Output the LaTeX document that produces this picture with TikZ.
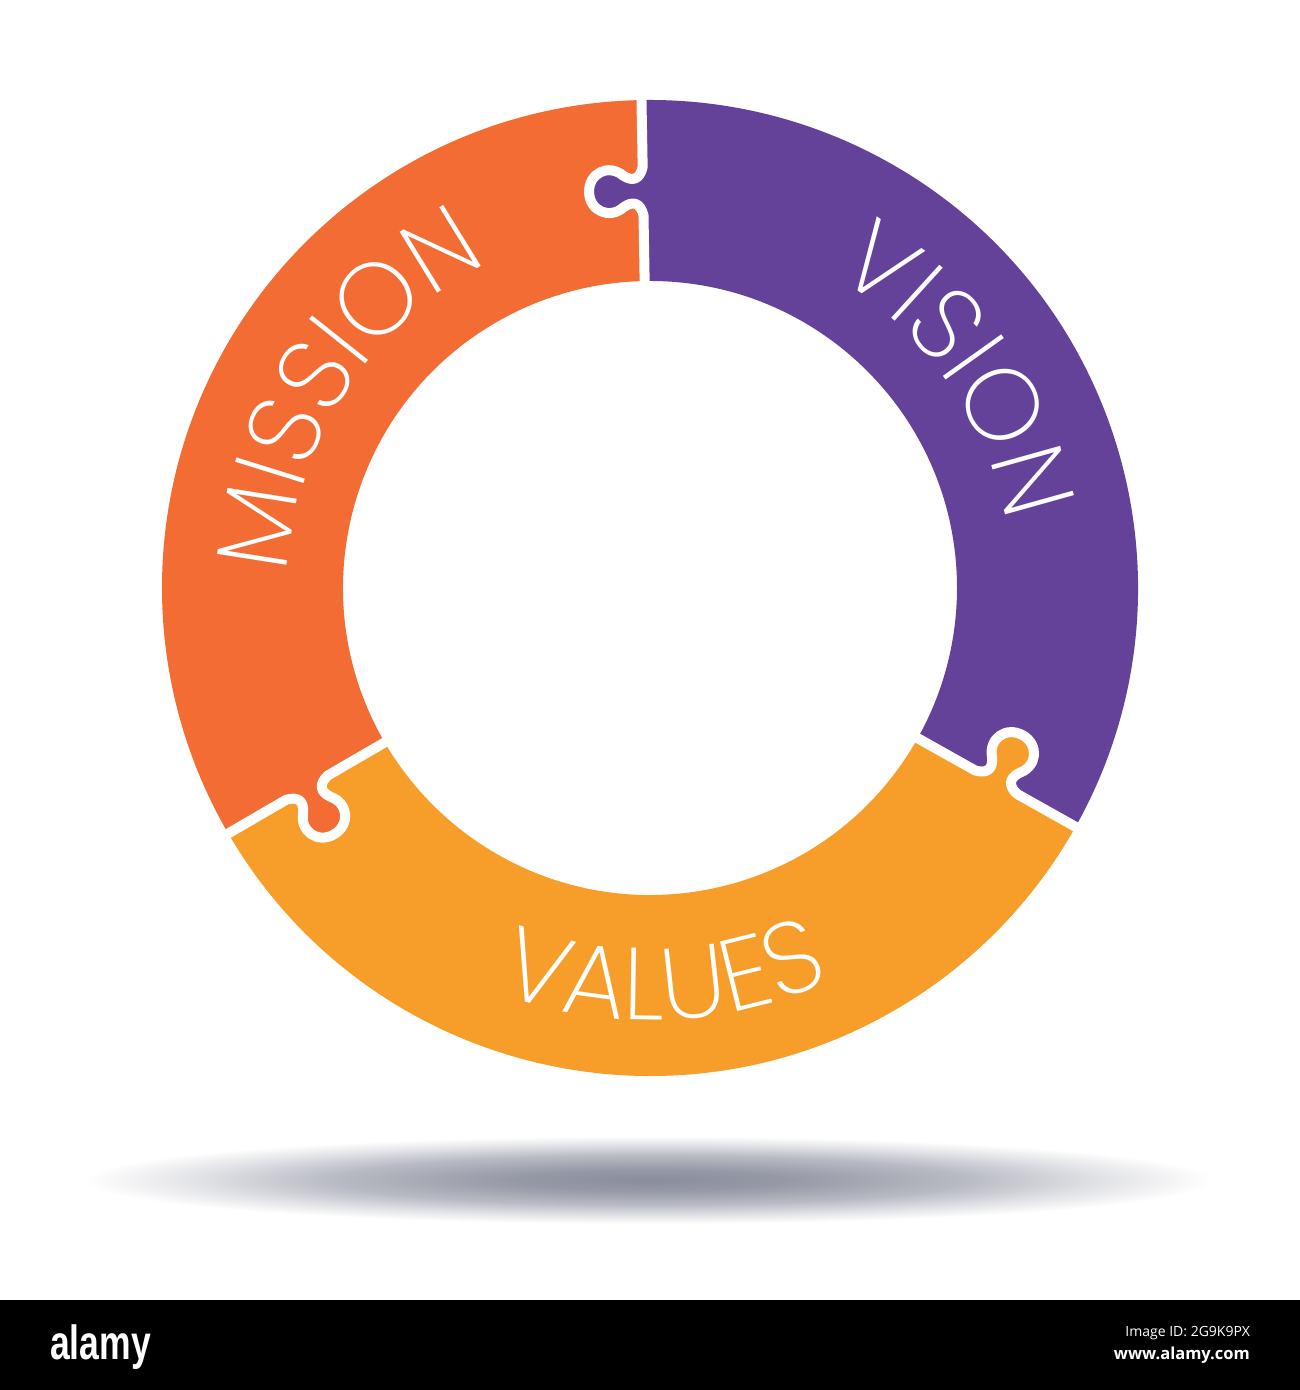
\documentclass[tikz,border=0pt]{standalone}
\usepackage{fontspec}
\usetikzlibrary{calc,decorations.text}
\newfontfamily\lblfont{Poppins ExtraLight}[LetterSpace=3]
\newfontfamily\barfont{Open Sans}
\newfontfamily\logofont{Liberation Sans}
\definecolor{mis}{RGB}{242,108,52}
\definecolor{vis}{RGB}{101,66,153}
\definecolor{val}{RGB}{247,157,41}
\definecolor{shd}{RGB}{138,141,156}
\pgfdeclareradialshading{shadowsh}{\pgfpoint{0bp}{0bp}}{color(0bp)=(shd); color(6bp)=(shd!90!white); color(14bp)=(shd!60!white); color(20bp)=(shd!25!white); color(25bp)=(white); color(50bp)=(white)}
\tikzset{
  gapline/.style={white,line width=10pt,line join=round},
  pics/knob/.style={code={
    \fill[#1] (-24,-4) -- (-24,0) .. controls (-12,3) and (-9,10) .. (-16,20)
      .. controls (-28,34) and (-19,54) .. (0,54)
      .. controls (19,54) and (28,34) .. (16,20)
      .. controls (9,10) and (12,3) .. (24,0) -- (24,-4) -- cycle;
    \draw[gapline] (-100,0) -- (-24,0) .. controls (-12,3) and (-9,10) .. (-16,20)
      .. controls (-28,34) and (-19,54) .. (0,54)
      .. controls (19,54) and (28,34) .. (16,20)
      .. controls (9,10) and (12,3) .. (24,0) -- (100,0);
  }},
  arclabel/.style={decorate,decoration={text along path,text align=center,
    text color=white,text={|\lblfont\fontsize{102}{102}\selectfont|#1}}},
  barnode/.style={white,inner sep=0pt,anchor=base east}
}
\begin{document}
\begin{tikzpicture}[x=1pt,y=1pt]
\useasboundingbox (0,0) rectangle (1300,1390);
\coordinate (C) at (650,802);
\def\Ro{488}\def\Ri{307}
\def\aT{91}\def\aR{-29.3}\def\aL{210.2}
% shadow
\shade[shading=shadowsh] (649,210) ellipse [x radius=565,y radius=44];
% pieces
\fill[mis] ($(C)+(\aT:\Ro)$) arc[start angle=\aT,end angle=\aL,radius=\Ro]
  -- ($(C)+(\aL:\Ri)$) arc[start angle=\aL,end angle=\aT,radius=\Ri] -- cycle;
\fill[vis] ($(C)+(\aR:\Ro)$) arc[start angle=\aR,end angle=\aT,radius=\Ro]
  -- ($(C)+(\aT:\Ri)$) arc[start angle=\aT,end angle=\aR,radius=\Ri] -- cycle;
\fill[val] ($(C)+(\aL:\Ro)$) arc[start angle=\aL,end angle=330.7,radius=\Ro]
  -- ($(C)+(330.7:\Ri)$) arc[start angle=330.7,end angle=\aL,radius=\Ri] -- cycle;
% puzzle joints
\pic[rotate=\aT] at ($(C)+(\aT:397)$) {knob=vis};
\pic[rotate=\aR] at ($(C)+(\aR:397)$) {knob=val};
\pic[rotate=\aL] at ($(C)+(\aL:397)$) {knob=mis};
% labels
\path[arclabel=MISSION] ($(C)+(190:362)$) arc[start angle=190,end angle=104,radius=362];
\path[arclabel=VISION] ($(C)+(79:362)$) arc[start angle=79,end angle=-9,radius=362];
\path[arclabel=VALUES] ($(C)+(227:432)$) arc[start angle=227,end angle=317,radius=432];
% bottom bar
\fill[black] (0,0) rectangle (1300,90);
\node[white,inner sep=0pt,anchor=base west,xscale=0.74,font=\logofont\bfseries\fontsize{48}{48}\selectfont] (logo) at (50,30) {alamy};
\node[barnode,font=\barfont\fontsize{14}{14}\selectfont] (imgid) at (1250,53) {Image ID: 2G9K9PX};
\node[barnode,font=\barfont\bfseries\fontsize{16.5}{16.5}\selectfont] (www) at (1250,30) {www.alamy.com};
\end{tikzpicture}
\end{document}
